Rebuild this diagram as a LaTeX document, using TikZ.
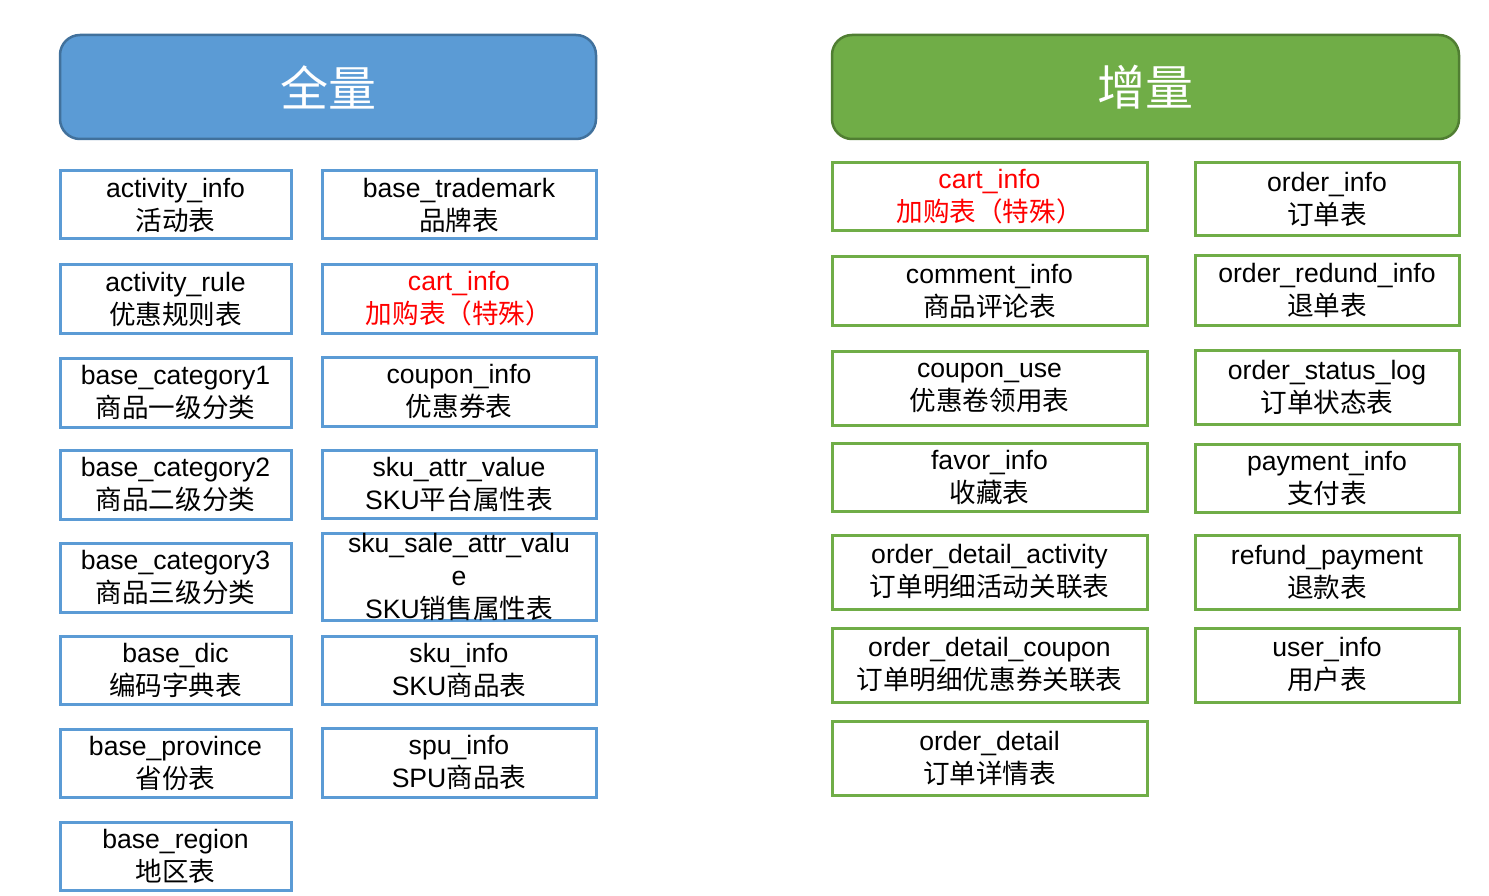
\documentclass[tikz,border=0pt]{standalone}
\usepackage{fontspec}
\setmainfont{Liberation Sans}
\newfontfamily\cjk{Noto Sans CJK SC}
\usepackage{xcolor}
\usepackage{tikz}
\usetikzlibrary{positioning}
\definecolor{qblue}{HTML}{5B9BD5}
\definecolor{qblueedge}{HTML}{41719C}
\definecolor{zgreen}{HTML}{70AD47}
\definecolor{zgreenedge}{HTML}{507E32}
\newcommand{\tblfont}{\fontsize{26.6}{33}\selectfont}
\tikzset{
  % header boxes
  headbox/.style={rectangle, rounded corners=20pt, line width=2.5pt, draw=#1edge, fill=#1, text=white, font=\cjk\fontsize{48}{52}\selectfont, inner sep=0pt},
  % table boxes
  qbox/.style={rectangle, draw=qblue, line width=3pt, fill=white, align=center, inner sep=0pt, font=\tblfont},
  zbox/.style={rectangle, draw=zgreen, line width=3pt, fill=white, align=center, inner sep=0pt, font=\tblfont},
}
\begin{document}
\begin{tikzpicture}[x=1pt, y=-1pt]
    \useasboundingbox (0,0) rectangle (1489,896);
    % Headers
    \node[headbox=qblue, minimum width=536pt, minimum height=104pt] (qhead) at (328,87) {全量};
    \node[headbox=zgreen, minimum width=627pt, minimum height=104pt] (zhead) at (1145.5,87) {增量};
    % Full tables: first column
    \foreach \n/\y/\h/\e/\c in {1/205/68/activity\_info/\cjk 活动表,
                                2/299/68/activity\_rule/\cjk 优惠规则表,
                                3/392.5/69/base\_category1/\cjk 商品一级分类,
                                4/484.5/69/base\_category2/\cjk 商品二级分类,
                                5/577.5/69/base\_category3/\cjk 商品三级分类,
                                6/670/68/base\_dic/\cjk 编码字典表,
                                7/763/68/base\_province/\cjk 省份表,
                                8/856/68/base\_region/\cjk 地区表} {
      \node[qbox, minimum width=231pt, minimum height=\h pt] (qa\n) at (175.5,\y) {\e\\\c};
    }
    % Full tables: second column
    \foreach \n/\y/\h/\e/\c in {1/205/68/base\_trademark/\cjk 品牌表,
                                3/391.5/69/coupon\_info/\cjk 优惠券表,
                                4/484/68/sku\_attr\_value/SKU\cjk 平台属性表,
                                6/670/68/sku\_info/SKU\cjk 商品表,
                                7/762.5/69/spu\_info/SPU\cjk 商品表} {
      \node[qbox, minimum width=274pt, minimum height=\h pt] (qb\n) at (459,\y) {\e\\\c};
    }
    \node[qbox, minimum width=274pt, minimum height=68pt, text=red] (qb2) at (459,299) {cart\_info\\\cjk 加购表（特殊）};
    % text runs over the box here
    \node[qbox, minimum width=274pt, minimum height=70pt, fill=none] (qb5) at (459,577) {sku\_sale\_attr\_valu\\e\\SKU\cjk 销售属性表};
    % Incremental tables: first column
    \node[zbox, minimum width=315pt, minimum height=68pt, text=red] (za1) at (989.5,197) {cart\_info\\\cjk 加购表（特殊）};
    \foreach \n/\y/\h/\e/\c in {2/291/68/comment\_info/\cjk 商品评论表,
                                3/388/74/coupon\_use/\cjk 优惠卷领用表,
                                4/477/68/favor\_info/\cjk 收藏表,
                                5/572/74/order\_detail\_activity/\cjk 订单明细活动关联表,
                                6/665/74/order\_detail\_coupon/\cjk 订单明细优惠券关联表,
                                7/758/74/order\_detail/\cjk 订单详情表} {
      \node[zbox, minimum width=315pt, minimum height=\h pt] (za\n) at (989.5,\y) {\e\\\c};
    }
    % Incremental tables: second column
    \foreach \n/\y/\h/\e/\c in {1/199.5/73/order\_info/\cjk 订单表,
                                2/290.5/69/order\_redund\_info/\cjk 退单表,
                                3/387/74/order\_status\_log/\cjk 订单状态表,
                                4/478/68/payment\_info/\cjk 支付表,
                                5/572/74/refund\_payment/\cjk 退款表,
                                6/665/74/user\_info/\cjk 用户表} {
      \node[zbox, minimum width=264pt, minimum height=\h pt] (zb\n) at (1327,\y) {\e\\\c};
    }
\end{tikzpicture}
\end{document}
